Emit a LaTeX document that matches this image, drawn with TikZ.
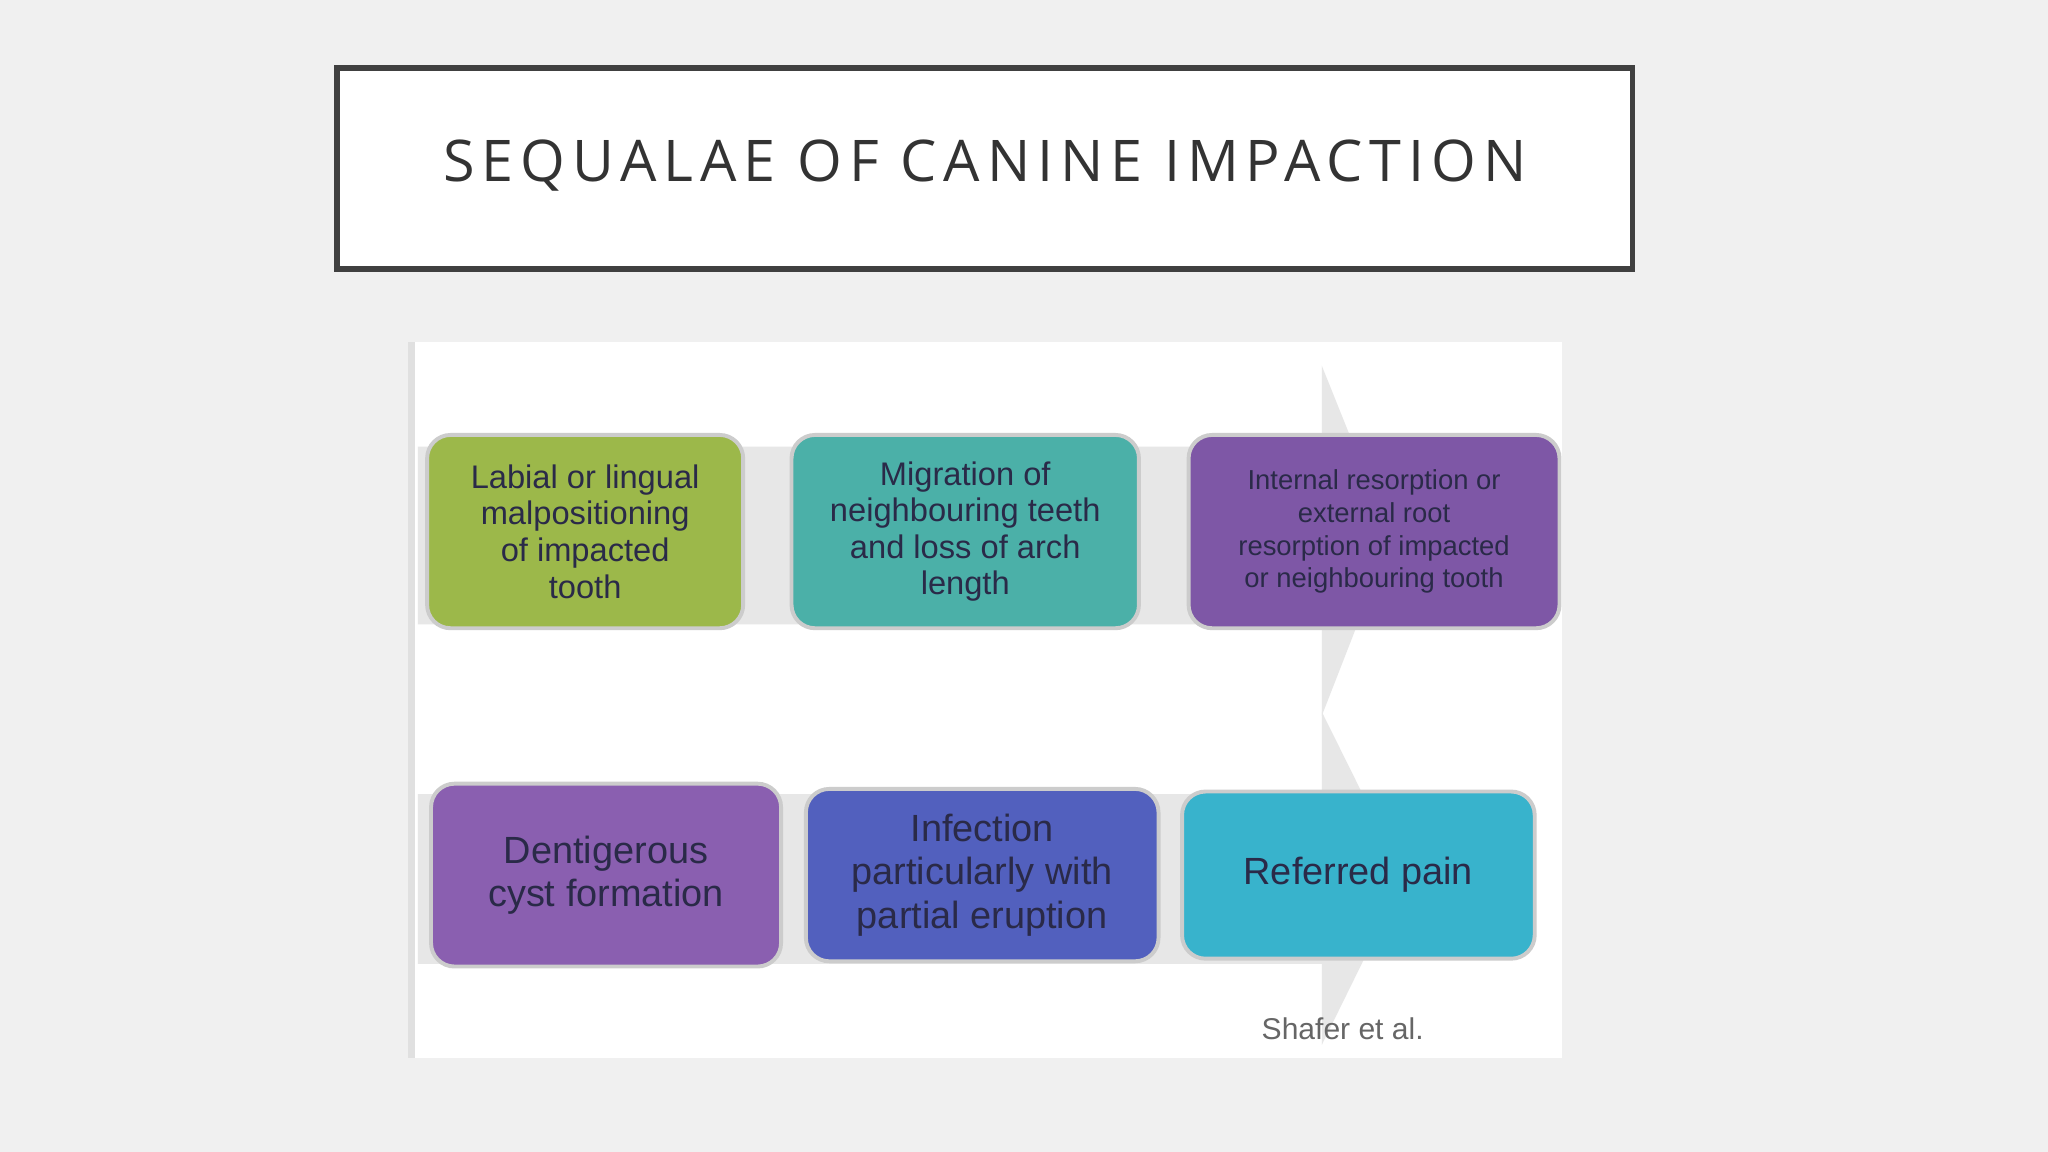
\documentclass[tikz,border=0pt]{standalone}
\usepackage{fontspec}
\setmainfont{Liberation Sans}
\newfontfamily\titlefont[LetterSpace=12]{Open Sans}
\definecolor{bg}{HTML}{F0F0F0}
\definecolor{bgr}{HTML}{DCDCDC}
\definecolor{cgreen}{HTML}{9CB84A}
\definecolor{cteal}{HTML}{4BB0A8}
\definecolor{cpurp}{HTML}{7E57A6}
\definecolor{cpurp2}{HTML}{8A5FB0}
\definecolor{cblue}{HTML}{5260BE}
\definecolor{ccyan}{HTML}{38B3CC}
\definecolor{txt}{HTML}{2A2A48}
\tikzset{
 card/.style={draw=white!80!black, line width=1.5pt, rounded corners=9pt, inner sep=0pt, text=txt, align=center},
}
\begin{document}
\begin{tikzpicture}[x=0.5pt,y=-0.5pt]
\fill[bg] (0,0) rectangle (1568,882);
\useasboundingbox (0,0) rectangle (1568,882);
\node[draw=black!75, line width=2pt, fill=white, minimum width=496pt, minimum height=77pt, inner sep=0pt] (title) at (754,129) {};
\node[font=\titlefont\fontsize{22}{26}\selectfont, text=black!80] (tt) at (754,127) {SEQUALAE OF CANINE IMPACTION};
\fill[white] (312,262) rectangle (1196,810);
\fill[black!12] (312,262) rectangle (318,810);
% chevrons
\fill[bgr!70] (320,342) -- (1012,342) -- (1012,280) -- (1065,412) -- (1012,548) -- (1012,478) -- (320,478) -- cycle;
\fill[bgr!70] (320,608) -- (1012,608) -- (1012,545) -- (1075,672) -- (1012,800) -- (1012,738) -- (320,738) -- cycle;
\node[card, fill=cgreen, minimum width=121pt, minimum height=74pt, font=\fontsize{12.5}{14}\selectfont] (a) at (448,407) {Labial or lingual\\malpositioning\\of impacted\\tooth};
\node[card, fill=cteal, minimum width=133pt, minimum height=74pt, font=\fontsize{12.5}{14}\selectfont] (b) at (739,407) {Migration of\\neighbouring teeth\\and loss of arch\\length};
\node[card, fill=cpurp, minimum width=142pt, minimum height=74pt, font=\fontsize{10.5}{12.5}\selectfont] (c) at (1052,407) {Internal resorption or\\external root\\resorption of impacted\\or neighbouring tooth};
\node[card, fill=cpurp2, minimum width=134pt, minimum height=70pt, font=\fontsize{14.5}{16.5}\selectfont] (d) at (464,670) {Dentigerous\\cyst formation};
\node[card, fill=cblue, minimum width=135pt, minimum height=66pt, font=\fontsize{14.5}{16.5}\selectfont] (e) at (752,670) {Infection\\particularly with\\partial eruption};
\node[card, fill=ccyan, minimum width=135pt, minimum height=64pt, font=\fontsize{14.5}{16.5}\selectfont] (f) at (1040,670) {Referred pain};
\node[text=black!60, font=\fontsize{11.5}{13}\selectfont] (s) at (1028,788) {Shafer et al.};
\end{tikzpicture}
\end{document}
